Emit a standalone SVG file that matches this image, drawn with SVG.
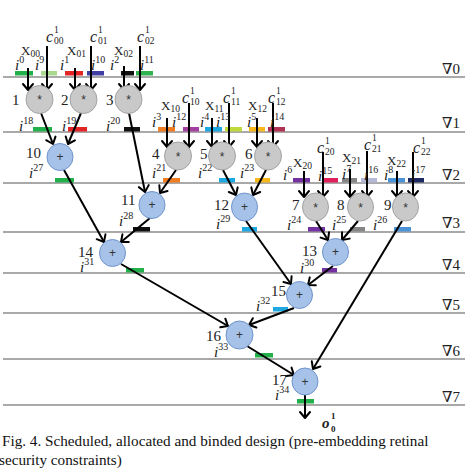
<svg xmlns="http://www.w3.org/2000/svg" width="474" height="474" viewBox="0 0 474 474">
<defs>
<style>
.ln{stroke:#8c8c8c;stroke-width:1.5}
.e{stroke:#000;stroke-width:2;fill:none;marker-end:url(#ah)}
.mul{fill:#c9c9c9;stroke:#a3a3a3;stroke-width:1}
.add{fill:#a6c2e8;stroke:#6f94cc;stroke-width:1}
.op{font-family:"Liberation Sans",Arial,sans-serif;font-size:12px;fill:#333;text-anchor:middle}
text{font-family:"Liberation Serif","DejaVu Serif",serif;fill:#222}
.num{font-size:15px}
.lv{font-size:15px}
.iv{font-size:15px}
.xv{font-size:13px}
.cv{font-size:16px;font-style:italic}
.s9{font-size:9.5px}
.cap{font-size:15.2px;fill:#111}
</style>
<marker id="ah" viewBox="-8 -7 10 14" refX="0" refY="0" markerWidth="10" markerHeight="14" markerUnits="userSpaceOnUse" orient="auto">
<path d="M-6,-5 L0,0 L-6,5" fill="none" stroke="#000" stroke-width="2" stroke-linejoin="round" stroke-linecap="round"/>
</marker>
</defs>
<rect width="474" height="474" fill="#fff"/>

<g id="levels">
<line class="ln" x1="3" y1="77" x2="465" y2="77"/>
<line class="ln" x1="3" y1="132" x2="465" y2="132"/>
<line class="ln" x1="3" y1="183" x2="465" y2="183"/>
<line class="ln" x1="3" y1="232" x2="465" y2="232"/>
<line class="ln" x1="3" y1="273" x2="465" y2="273"/>
<line class="ln" x1="3" y1="313" x2="465" y2="313"/>
<line class="ln" x1="3" y1="359" x2="465" y2="359"/>
<line class="ln" x1="3" y1="405" x2="465" y2="405"/>
<text class="lv" x="442" y="74">∇0</text>
<text class="lv" x="442" y="128">∇1</text>
<text class="lv" x="442" y="180">∇2</text>
<text class="lv" x="442" y="228">∇3</text>
<text class="lv" x="442" y="270">∇4</text>
<text class="lv" x="442" y="310">∇5</text>
<text class="lv" x="442" y="356">∇6</text>
<text class="lv" x="442" y="402">∇7</text>
</g>

<g id="bars">
<rect x="15" y="71" width="18" height="4.5" fill="#22b04b"/>
<rect x="41" y="71" width="16" height="4.5" fill="#a9d98f"/>
<rect x="65" y="71" width="18" height="4.5" fill="#e22424"/>
<rect x="87" y="71" width="17" height="4.5" fill="#3f3fa3"/>
<rect x="121" y="71" width="13" height="4.5" fill="#111"/>
<rect x="136" y="71" width="17" height="4.5" fill="#2fb24f"/>

<rect x="33" y="127" width="19" height="4.5" fill="#22b04b"/>
<rect x="68" y="127" width="19" height="4.5" fill="#e22424"/>
<rect x="124" y="127" width="16" height="4.5" fill="#111"/>
<rect x="158" y="127" width="17" height="4.5" fill="#f07d22"/>
<rect x="183" y="127" width="16" height="4.5" fill="#a43fa0"/>
<rect x="205" y="127" width="17" height="4.5" fill="#1ea8e2"/>
<rect x="225" y="127" width="17" height="4.5" fill="#c2d93c"/>
<rect x="249" y="127" width="16" height="4.5" fill="#f8b81c"/>
<rect x="268" y="127" width="17" height="4.5" fill="#b03353"/>

<rect x="55" y="178" width="19" height="4.5" fill="#22b04b"/>
<rect x="163" y="178" width="17" height="4.5" fill="#f07d22"/>
<rect x="219" y="178" width="16" height="4.5" fill="#1ea8e2"/>
<rect x="255" y="178" width="15" height="4.5" fill="#f8b81c"/>
<rect x="293" y="178" width="17" height="4.5" fill="#7332a0"/>
<rect x="322" y="178" width="16" height="4.5" fill="#e0205a"/>
<rect x="342" y="178" width="15" height="4.5" fill="#858585"/>
<rect x="361" y="178" width="16" height="4.5" fill="#b4b9d8"/>
<rect x="388" y="178" width="17" height="4.5" fill="#4c92d6"/>
<rect x="408" y="178" width="16" height="4.5" fill="#1d2a62"/>

<rect x="133" y="227" width="17" height="4.5" fill="#111"/>
<rect x="242" y="227" width="15" height="4.5" fill="#1ea8e2"/>
<rect x="308" y="227" width="17" height="4.5" fill="#7332a0"/>
<rect x="350" y="227" width="15" height="4.5" fill="#858585"/>
<rect x="394" y="227" width="17" height="4.5" fill="#4c92d6"/>

<rect x="126" y="268" width="18" height="4.5" fill="#22b04b"/>
<rect x="322" y="268" width="15" height="4.5" fill="#7332a0"/>
<rect x="273" y="307" width="15" height="4.5" fill="#1ea8e2"/>
<rect x="255" y="353" width="18" height="4.5" fill="#22b04b"/>
<rect x="297" y="399" width="17" height="4.5" fill="#22b04b"/>
</g>

<g id="connectors">
<line class="e" x1="28" y1="68" x2="28" y2="90"/>
<line class="e" x1="47" y1="46" x2="47" y2="90"/>
<line class="e" x1="75" y1="68" x2="75" y2="90"/>
<line class="e" x1="91" y1="46" x2="91" y2="90"/>
<line class="e" x1="124" y1="66" x2="124" y2="90"/>
<line class="e" x1="140" y1="46" x2="140" y2="90"/>

<line class="e" x1="167" y1="118" x2="167" y2="147"/>
<line class="e" x1="189" y1="103" x2="189" y2="147"/>
<line class="e" x1="212" y1="118" x2="212" y2="147"/>
<line class="e" x1="229" y1="103" x2="229" y2="147"/>
<line class="e" x1="257" y1="118" x2="257" y2="147"/>
<line class="e" x1="273" y1="103" x2="273" y2="147"/>

<line class="e" x1="304" y1="171" x2="304" y2="197"/>
<line class="e" x1="323" y1="152" x2="323" y2="197"/>
<line class="e" x1="350" y1="169" x2="350" y2="197"/>
<line class="e" x1="367" y1="151" x2="367" y2="197"/>
<line class="e" x1="397" y1="171" x2="397" y2="197"/>
<line class="e" x1="413" y1="152" x2="413" y2="197"/>

<line class="e" x1="41" y1="113" x2="53" y2="144"/>
<line class="e" x1="81" y1="113" x2="68" y2="144"/>
<line class="e" x1="129" y1="113" x2="145" y2="192"/>
<line class="e" x1="176" y1="170" x2="160" y2="193"/>
<line class="e" x1="64" y1="170" x2="104" y2="242"/>
<line class="e" x1="150" y1="218" x2="121" y2="242"/>
<line class="e" x1="223" y1="170" x2="236" y2="195"/>
<line class="e" x1="266" y1="170" x2="253" y2="195"/>
<line class="e" x1="316" y1="221" x2="328" y2="240"/>
<line class="e" x1="358" y1="221" x2="342" y2="240"/>
<line class="e" x1="246" y1="221" x2="291" y2="284"/>
<line class="e" x1="333" y1="266" x2="308" y2="285"/>
<line class="e" x1="121" y1="264" x2="228" y2="326"/>
<line class="e" x1="294" y1="308" x2="249" y2="325"/>
<line class="e" x1="247" y1="346" x2="294" y2="375"/>
<line class="e" x1="402" y1="221" x2="313" y2="369"/>
<line class="e" x1="305" y1="395" x2="305" y2="418"/>
</g>

<g id="inputs">
<text class="xv" x="21" y="55">X<tspan class="s9" dy="2">00</tspan></text>
<text class="xv" x="67" y="55">X<tspan class="s9" dy="2">01</tspan></text>
<text class="xv" x="114" y="55">X<tspan class="s9" dy="2">02</tspan></text>
<text class="cv" x="46" y="42">c</text><text class="s9" x="54" y="33">1</text><text class="s9" x="54" y="44">00</text>
<text class="cv" x="90" y="42">c</text><text class="s9" x="98" y="33">1</text><text class="s9" x="98" y="44">01</text>
<text class="cv" x="137" y="42">c</text><text class="s9" x="145" y="33">1</text><text class="s9" x="145" y="44">02</text>

<text class="xv" x="161" y="110">X<tspan class="s9" dy="2">10</tspan></text>
<text class="xv" x="205" y="110">X<tspan class="s9" dy="2">11</tspan></text>
<text class="xv" x="248" y="110">X<tspan class="s9" dy="2">12</tspan></text>
<text class="cv" x="182" y="103">c</text><text class="s9" x="190" y="94">1</text><text class="s9" x="190" y="105">10</text>
<text class="cv" x="223" y="103">c</text><text class="s9" x="231" y="94">1</text><text class="s9" x="231" y="105">11</text>
<text class="cv" x="268" y="103">c</text><text class="s9" x="276" y="94">1</text><text class="s9" x="276" y="105">12</text>

<text class="xv" x="293" y="167">X<tspan class="s9" dy="2">20</tspan></text>
<text class="xv" x="342" y="162">X<tspan class="s9" dy="2">21</tspan></text>
<text class="xv" x="387" y="165">X<tspan class="s9" dy="2">22</tspan></text>
<text class="cv" x="317" y="153">c</text><text class="s9" x="325" y="144">1</text><text class="s9" x="325" y="155">20</text>
<text class="cv" x="364" y="150">c</text><text class="s9" x="372" y="141">1</text><text class="s9" x="372" y="152">21</text>
<text class="cv" x="413" y="153">c</text><text class="s9" x="421" y="144">1</text><text class="s9" x="421" y="155">22</text>
</g>

<g id="signals" class="iv">
<text x="15" y="70"><tspan font-style="italic">i</tspan><tspan font-size="10" dy="-7">0</tspan></text>
<text x="35" y="70"><tspan font-style="italic">i</tspan><tspan font-size="10" dy="-7">9</tspan></text>
<text x="60" y="70"><tspan font-style="italic">i</tspan><tspan font-size="10" dy="-7">1</tspan></text>
<text x="91" y="70"><tspan font-style="italic">i</tspan><tspan font-size="10" dy="-7">10</tspan></text>
<text x="110" y="70"><tspan font-style="italic">i</tspan><tspan font-size="10" dy="-7">2</tspan></text>
<text x="140" y="70"><tspan font-style="italic">i</tspan><tspan font-size="10" dy="-7">11</tspan></text>

<text x="19" y="131"><tspan font-style="italic">i</tspan><tspan font-size="10" dy="-7">18</tspan></text>
<text x="62" y="131"><tspan font-style="italic">i</tspan><tspan font-size="10" dy="-7">19</tspan></text>
<text x="106" y="131"><tspan font-style="italic">i</tspan><tspan font-size="10" dy="-7">20</tspan></text>
<text x="152" y="127"><tspan font-style="italic">i</tspan><tspan font-size="10" dy="-7">3</tspan></text>
<text x="172" y="127"><tspan font-style="italic">i</tspan><tspan font-size="10" dy="-7">12</tspan></text>
<text x="200" y="127"><tspan font-style="italic">i</tspan><tspan font-size="10" dy="-7">4</tspan></text>
<text x="216" y="127"><tspan font-style="italic">i</tspan><tspan font-size="10" dy="-7">13</tspan></text>
<text x="247" y="127"><tspan font-style="italic">i</tspan><tspan font-size="10" dy="-7">5</tspan></text>
<text x="270" y="127"><tspan font-style="italic">i</tspan><tspan font-size="10" dy="-7">14</tspan></text>

<text x="29" y="178"><tspan font-style="italic">i</tspan><tspan font-size="10" dy="-7">27</tspan></text>
<text x="152" y="178"><tspan font-style="italic">i</tspan><tspan font-size="10" dy="-7">21</tspan></text>
<text x="198" y="178"><tspan font-style="italic">i</tspan><tspan font-size="10" dy="-7">22</tspan></text>
<text x="240" y="178"><tspan font-style="italic">i</tspan><tspan font-size="10" dy="-7">23</tspan></text>
<text x="283" y="180"><tspan font-style="italic">i</tspan><tspan font-size="10" dy="-7">6</tspan></text>
<text x="318" y="181"><tspan font-style="italic">i</tspan><tspan font-size="10" dy="-7">15</tspan></text>
<text x="342" y="179"><tspan font-style="italic">i</tspan><tspan font-size="10" dy="-7">7</tspan></text>
<text x="364" y="180"><tspan font-style="italic">i</tspan><tspan font-size="10" dy="-7">16</tspan></text>
<text x="384" y="180"><tspan font-style="italic">i</tspan><tspan font-size="10" dy="-7">8</tspan></text>
<text x="411" y="180"><tspan font-style="italic">i</tspan><tspan font-size="10" dy="-7">17</tspan></text>

<text x="119" y="226"><tspan font-style="italic">i</tspan><tspan font-size="10" dy="-7">28</tspan></text>
<text x="216" y="229"><tspan font-style="italic">i</tspan><tspan font-size="10" dy="-7">29</tspan></text>
<text x="287" y="230"><tspan font-style="italic">i</tspan><tspan font-size="10" dy="-7">24</tspan></text>
<text x="332" y="230"><tspan font-style="italic">i</tspan><tspan font-size="10" dy="-7">25</tspan></text>
<text x="373" y="230"><tspan font-style="italic">i</tspan><tspan font-size="10" dy="-7">26</tspan></text>

<text x="80" y="272"><tspan font-style="italic">i</tspan><tspan font-size="10" dy="-7">31</tspan></text>
<text x="300" y="273"><tspan font-style="italic">i</tspan><tspan font-size="10" dy="-7">30</tspan></text>
<text x="256" y="311"><tspan font-style="italic">i</tspan><tspan font-size="10" dy="-7">32</tspan></text>
<text x="214" y="357"><tspan font-style="italic">i</tspan><tspan font-size="10" dy="-7">33</tspan></text>
<text x="275" y="400"><tspan font-style="italic">i</tspan><tspan font-size="10" dy="-7">34</tspan></text>
</g>

<g id="n1"><ellipse class="mul" cx="39.5" cy="99.5" rx="13.5" ry="14"/><text class="op" x="39.5" y="104">*</text><text class="num" x="12" y="105">1</text></g>
<g id="n2"><ellipse class="mul" cx="83.5" cy="99.5" rx="13.5" ry="14"/><text class="op" x="83.5" y="104">*</text><text class="num" x="61" y="105">2</text></g>
<g id="n3"><ellipse class="mul" cx="128.5" cy="99.5" rx="13.5" ry="14"/><text class="op" x="128.5" y="104">*</text><text class="num" x="106" y="105">3</text></g>
<g id="n4"><ellipse class="mul" cx="178" cy="156" rx="13.5" ry="14"/><text class="op" x="178" y="160.5">*</text><text class="num" x="152" y="159">4</text></g>
<g id="n5"><ellipse class="mul" cx="222" cy="156" rx="13.5" ry="14"/><text class="op" x="222" y="160.5">*</text><text class="num" x="200" y="159">5</text></g>
<g id="n6"><ellipse class="mul" cx="268" cy="156" rx="13.5" ry="14"/><text class="op" x="268" y="160.5">*</text><text class="num" x="245" y="159">6</text></g>
<g id="n7"><ellipse class="mul" cx="315.5" cy="207" rx="13" ry="14"/><text class="op" x="315.5" y="211.5">*</text><text class="num" x="292" y="210">7</text></g>
<g id="n8"><ellipse class="mul" cx="360.5" cy="207" rx="13" ry="14"/><text class="op" x="360.5" y="211.5">*</text><text class="num" x="337" y="210">8</text></g>
<g id="n9"><ellipse class="mul" cx="405.5" cy="207" rx="13" ry="14"/><text class="op" x="405.5" y="211.5">*</text><text class="num" x="384" y="210">9</text></g>
<g id="n10"><ellipse class="add" cx="60" cy="157" rx="13" ry="13.5"/><text class="op" x="60" y="161">+</text><text class="num" x="26" y="158">10</text></g>
<g id="n11"><ellipse class="add" cx="152" cy="205" rx="13" ry="13.5"/><text class="op" x="152" y="209">+</text><text class="num" x="121" y="205">11</text></g>
<g id="n12"><ellipse class="add" cx="244.5" cy="207" rx="13" ry="14"/><text class="op" x="244.5" y="211">+</text><text class="num" x="214" y="210">12</text></g>
<g id="n13"><ellipse class="add" cx="335.5" cy="252" rx="13" ry="13.5"/><text class="op" x="335.5" y="256">+</text><text class="num" x="302" y="256">13</text></g>
<g id="n14"><ellipse class="add" cx="112.5" cy="253" rx="13" ry="13.5"/><text class="op" x="112.5" y="257">+</text><text class="num" x="78" y="257">14</text></g>
<g id="n15"><ellipse class="add" cx="299.5" cy="295" rx="13" ry="13.5"/><text class="op" x="299.5" y="299">+</text><text class="num" x="271" y="296">15</text></g>
<g id="n16"><ellipse class="add" cx="239.5" cy="335" rx="13.5" ry="14"/><text class="op" x="239.5" y="339">+</text><text class="num" x="206" y="341">16</text></g>
<g id="n17"><ellipse class="add" cx="305" cy="381.5" rx="13" ry="13.5"/><text class="op" x="305" y="385.5">+</text><text class="num" x="272" y="385">17</text></g>

<g id="output">
<text x="322" y="428" font-size="15" font-weight="bold" font-style="italic">o</text>
<text x="331" y="419" font-size="9" font-weight="bold">1</text>
<text x="331" y="432" font-size="9" font-weight="bold">0</text>
</g>

<g id="caption">
<text class="cap" x="2" y="446">Fig. 4. Scheduled, allocated and binded design (pre-embedding retinal</text>
<text class="cap" x="-1" y="465">security constraints)</text>
</g>
</svg>
